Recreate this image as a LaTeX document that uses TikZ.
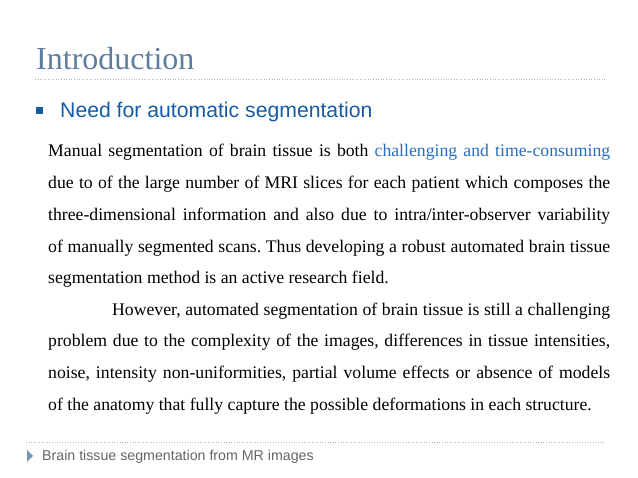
\documentclass[tikz,border=0pt]{standalone}
\usepackage{fontspec}
\setmainfont{Liberation Serif}
\newfontfamily\sansf{Liberation Sans}
\definecolor{titleblue}{RGB}{94,124,160}
\definecolor{bulletblue}{RGB}{22,92,165}
\definecolor{hl}{RGB}{40,110,190}
\definecolor{dotc}{RGB}{160,185,210}
\definecolor{foot}{RGB}{100,100,100}
\definecolor{tri}{RGB}{120,150,180}
\tikzset{ln/.style={anchor=base west,inner sep=0pt,font=\frenchspacing\fontsize{17.7}{20}\selectfont}}
\newcommand{\jl}[1]{\makebox[562pt][s]{#1}}
\begin{document}
\begin{tikzpicture}[x=1pt,y=-1pt]
\useasboundingbox (0,0) rectangle (638,478);
\node[anchor=base west,inner sep=0pt,text=titleblue,font=\fontsize{32}{34}\selectfont] (title) at (36,70) {Introduction};
\draw[dotc,dotted,line width=0.6pt] (35,79) -- (605,79);
\fill[bulletblue] (36,107) rectangle (43,114);
\node[anchor=base west,inner sep=0pt,text=bulletblue,font=\sansf\fontsize{21.2}{24}\selectfont] (head) at (60,118) {Need for automatic segmentation};
\node[ln] (l1) at (48,157) {\jl{Manual segmentation of brain tissue is both \textcolor{hl}{challenging and time-consuming}}};
\node[ln] (l2) at (48,189) {\jl{due to of the large number of MRI slices for each patient which composes the}};
\node[ln] (l3) at (48,221) {\jl{three-dimensional information and also due to intra/inter-observer variability}};
\node[ln] (l4) at (48,253) {\jl{of manually segmented scans. Thus developing a robust automated brain tissue}};
\node[ln] (l5) at (48,284) {segmentation method is an active research field.};
\node[ln] (l6) at (112,316) {\makebox[498pt][s]{However, automated segmentation of brain tissue is still a challenging}};
\node[ln] (l7) at (48,347) {\jl{problem due to the complexity of the images, differences in tissue intensities,}};
\node[ln] (l8) at (48,379) {\jl{noise, intensity non-uniformities, partial volume effects or absence of models}};
\node[ln] (l9) at (48,411) {of the anatomy that fully capture the possible deformations in each structure.};
\draw[dotc,dotted,line width=0.6pt] (26,442) -- (605,442);
\fill[tri] (27,450) -- (33,456) -- (27,462) -- cycle;
\node[anchor=base west,inner sep=0pt,text=foot,font=\sansf\fontsize{14.2}{16}\selectfont] (foot) at (42,461) {Brain tissue segmentation from MR images};
\end{tikzpicture}
\end{document}
